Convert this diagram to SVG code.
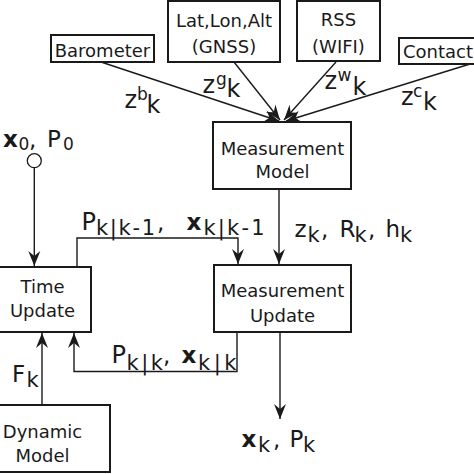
<svg xmlns="http://www.w3.org/2000/svg" width="474" height="474" viewBox="0 0 474 474">
  <style>
    .box { fill: #fff; stroke: #1a1a1a; stroke-width: 2; }
    .lbl { font-family: "DejaVu Sans", Verdana, sans-serif; font-size: 18px; fill: #1a1a1a; text-anchor: middle; }
    .m { font-family: "DejaVu Sans", Verdana, sans-serif; fill: #1a1a1a; }
    .big { font-size: 23px; }
    .zz { font-size: 24px; }
    .sub { font-size: 21px; }
    .sup { font-size: 17px; }
    .b { font-weight: bold; }
    .ln { fill: none; stroke: #1a1a1a; stroke-width: 1.4; }
  </style>
  <defs>
    <marker id="arr" viewBox="-16 -7 17 14" refX="0" refY="0" markerWidth="17" markerHeight="14" markerUnits="userSpaceOnUse" orient="auto">
      <path d="M0,0 L-15,-6 L-10,0 L-15,6 Z" fill="#1a1a1a"/>
    </marker>
  </defs>
  <rect width="474" height="474" fill="#fff"/>

  <g id="connectors">
    <line class="ln" x1="101" y1="62" x2="279" y2="121" marker-end="url(#arr)"/>
    <line class="ln" x1="234" y1="62" x2="280" y2="120" marker-end="url(#arr)"/>
    <line class="ln" x1="336" y1="62" x2="284" y2="120" marker-end="url(#arr)"/>
    <line class="ln" x1="470" y1="64" x2="286" y2="121" marker-end="url(#arr)"/>
    <line class="ln" x1="34.3" y1="168" x2="34.3" y2="266" marker-end="url(#arr)"/>
    <polyline class="ln" points="77,266 77,238 238,238 238,264" marker-end="url(#arr)"/>
    <line class="ln" x1="279" y1="189" x2="279" y2="264" marker-end="url(#arr)"/>
    <line class="ln" x1="280" y1="333" x2="280" y2="419" marker-end="url(#arr)"/>
    <polyline class="ln" points="237,333 237,371.5 74,371.5 74,333" marker-end="url(#arr)"/>
    <line class="ln" x1="42" y1="405" x2="42" y2="333" marker-end="url(#arr)"/>
  </g>

  <g id="barometer">
    <rect class="box" x="51" y="35" width="103" height="27"/>
    <text class="lbl" x="102.5" y="57">Barometer</text>
  </g>
  <g id="gnss">
    <rect class="box" x="168" y="1" width="112" height="61"/>
    <text class="lbl" x="224" y="27">Lat,Lon,Alt</text>
    <text class="lbl" x="224" y="53">(GNSS)</text>
  </g>
  <g id="rss">
    <rect class="box" x="297" y="1" width="83" height="60"/>
    <text class="lbl" x="338.5" y="26">RSS</text>
    <text class="lbl" x="338.5" y="53">(WIFI)</text>
  </g>
  <g id="contact">
    <rect class="box" x="399" y="38" width="80" height="26"/>
    <text class="lbl" x="403" y="58" style="text-anchor:start">Contact</text>
  </g>
  <g id="measurement-model">
    <rect class="box" x="213" y="122" width="138" height="67"/>
    <text class="lbl" x="282.5" y="155">Measurement</text>
    <text class="lbl" x="282.5" y="178">Model</text>
  </g>
  <g id="time-update">
    <rect class="box" x="-6" y="267" width="97" height="65"/>
    <text class="lbl" x="42.5" y="293">Time</text>
    <text class="lbl" x="42.5" y="317">Update</text>
  </g>
  <g id="measurement-update">
    <rect class="box" x="214" y="265" width="137" height="67"/>
    <text class="lbl" x="282.5" y="297">Measurement</text>
    <text class="lbl" x="282.5" y="321.5">Update</text>
  </g>
  <g id="dynamic-model">
    <rect class="box" x="-25" y="405" width="135" height="67"/>
    <text class="lbl" x="42.5" y="438">Dynamic</text>
    <text class="lbl" x="42.5" y="461.5">Model</text>
  </g>
  <g id="initial-state">
    <circle cx="34.3" cy="160.7" r="7" fill="#fff" stroke="#1a1a1a" stroke-width="1.3"/>
    <text class="m big b" x="3" y="147">x</text>
    <text class="m sup" x="18.5" y="150">0</text>
    <text class="m big" x="29" y="147">,</text>
    <text class="m big" x="47" y="147">P</text>
    <text class="m sup" x="63" y="150">0</text>
  </g>

  <g id="labels">
    <text class="m zz" x="124.5" y="108">z</text>
    <text class="m sup" x="137" y="100">b</text>
    <text class="m zz" x="146.5" y="113">k</text>

    <text class="m zz" x="202.5" y="93">z</text>
    <text class="m sup" x="216" y="85">g</text>
    <text class="m zz" x="226.5" y="97">k</text>

    <text class="m zz" x="324.5" y="89">z</text>
    <text class="m sup" x="337.5" y="81">w</text>
    <text class="m zz" x="352.5" y="95">k</text>

    <text class="m zz" x="401" y="105">z</text>
    <text class="m sup" x="413" y="97">c</text>
    <text class="m zz" x="423" y="110">k</text>

    <text class="m" style="font-size:24px" x="81.5" y="230">P</text>
    <text class="m sub" x="96" y="235" textLength="59" lengthAdjust="spacing">k|k-1</text>
    <text class="m big" x="157" y="230">,</text>
    <text class="m big b" x="186.5" y="230">x</text>
    <text class="m sub" x="203.5" y="235" textLength="61" lengthAdjust="spacing">k|k-1</text>

    <text class="m" style="font-size:24px" x="111.5" y="363">P</text>
    <text class="m sub" x="126.5" y="370" textLength="36.5" lengthAdjust="spacing">k|k</text>
    <text class="m big" x="163" y="363">,</text>
    <text class="m big b" x="181.5" y="363">x</text>
    <text class="m sub" x="198" y="370" textLength="38.5" lengthAdjust="spacing">k|k</text>

    <text class="m big" x="294.5" y="237">z</text>
    <text class="m sub" x="307.5" y="242">k</text>
    <text class="m big" x="321" y="237">,</text>
    <text class="m big" x="339.5" y="237">R</text>
    <text class="m sub" x="354.5" y="242">k</text>
    <text class="m big" x="368" y="237">,</text>
    <text class="m big" x="385.5" y="237">h</text>
    <text class="m sub" x="400" y="242">k</text>

    <text class="m big" x="12" y="382">F</text>
    <text class="m sub" x="26.5" y="387">k</text>

    <text class="m big b" x="241.5" y="447">x</text>
    <text class="m sub" x="258" y="452">k</text>
    <text class="m big" x="273" y="447">,</text>
    <text class="m big" x="289.5" y="447">P</text>
    <text class="m sub" x="303" y="452">k</text>
  </g>
</svg>
